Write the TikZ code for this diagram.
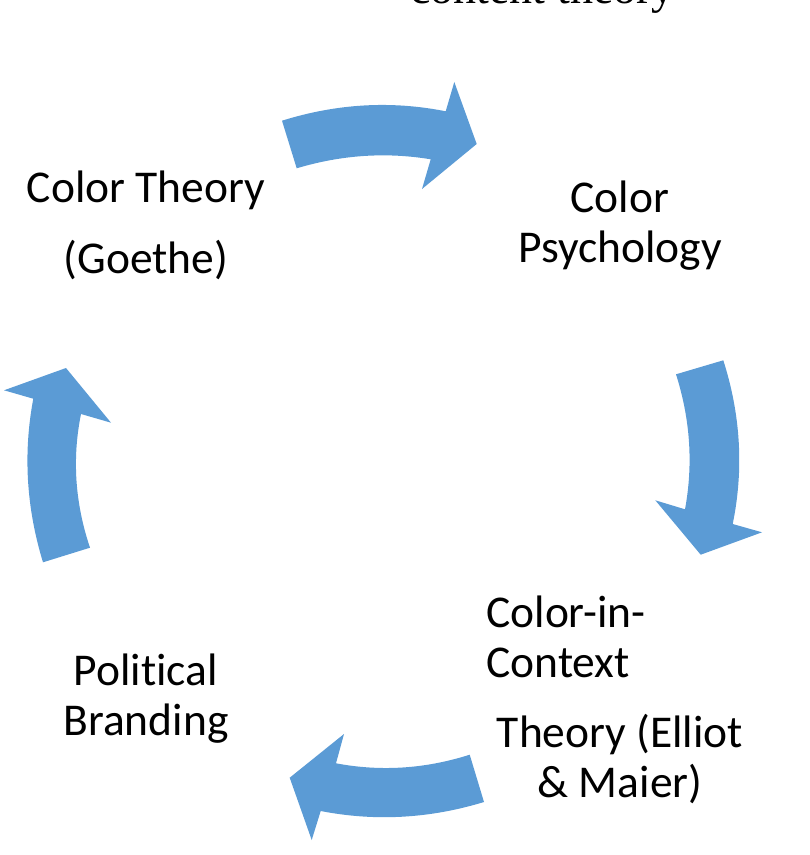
\documentclass[tikz,border=0pt]{standalone}
\usepackage{fontspec}
\setmainfont{Carlito}[Ligatures=NoCommon]
\newfontfamily\serifcut{Liberation Serif}
\usepackage{tikz}
\definecolor{arrowblue}{HTML}{5B9BD5}
\tikzset{
  cyclearrow/.style={fill=arrowblue,draw=none},
  labeltext/.style={font=\fontsize{25.9}{28.45}\selectfont,align=center,inner sep=0pt,text=black}
}

\begin{document}
\begin{tikzpicture}[x=0.02cm,y=-0.02cm]
\useasboundingbox (0,0) rectangle (809,855);
%%%%% Arrows %%%%%
\fill[cyclearrow] (282,120.7) .. controls (336.6,103.6) and (391.1,100.4) .. (445.7,111.3) -- (454.3,82) -- (476.7,144) -- (422,189) -- (430.7,159.3) .. controls (386,151.9) and (341.4,154.9) .. (296.7,168.3) -- cycle;
\fill[cyclearrow] (723.3,360.3) .. controls (740.7,414.9) and (743.9,469.4) .. (732.7,524) -- (762,532.3) -- (700.7,554.7) -- (655.3,500.3) -- (685,509.3) .. controls (693.3,464.3) and (690.3,419.3) .. (676,374.3) -- cycle;
\fill[cyclearrow] (484,802) .. controls (429.6,818.6) and (375.1,821.6) .. (320.7,811) -- (311.7,840) -- (289.7,777.7) -- (344,734) -- (336,763.3) .. controls (380.6,771.7) and (425.1,768.9) .. (469.7,754.7) -- cycle;
\fill[cyclearrow] (43,562.3) .. controls (26.3,507.8) and (23,453.2) .. (33.3,398.7) -- (4,390.3) -- (66,368) -- (111,422.7) -- (81,414) .. controls (72,458.6) and (75,503.1) .. (90,547.7) -- cycle;
%%%%% Labels %%%%%
\node[anchor=base,font=\serifcut\fontsize{26.2}{30}\selectfont] (cuttext) at (542.5,4) {content theory};
\node[labeltext] (goetheA) at (146,190) {Color Theory};
\node[labeltext] (goetheB) at (146,260) {(Goethe)};
\node[labeltext] (psych) at (620,226) {Color\\Psychology};
\node[labeltext,align=left,anchor=west] (contextA) at (486,637) {Color-in-\\Context};
\node[labeltext] (contextB) at (620,759) {Theory (Elliot\\\& Maier)};
\node[labeltext] (branding) at (146,699) {Political\\Branding};
\end{tikzpicture}
\end{document}
